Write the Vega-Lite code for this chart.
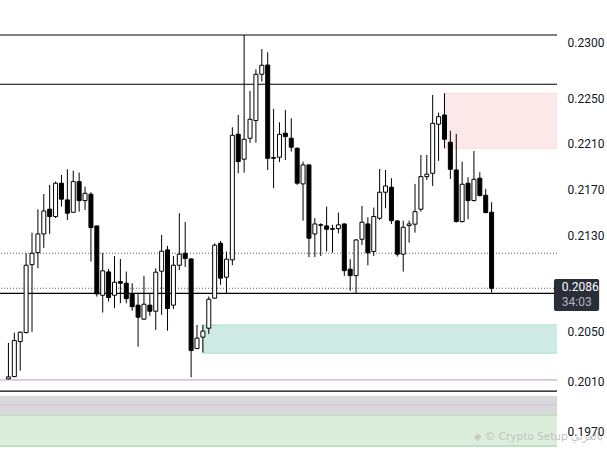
{
  "$schema": "https://vega.github.io/schema/vega-lite/v6.json",
  "width": 557,
  "height": 455,
  "autosize": {"type": "none"},
  "padding": {"left": 0, "top": 0, "right": 50, "bottom": 0},
  "background": "white",
  "config": {
    "view": {"stroke": null},
    "axis": {"labelFont": "Roboto", "labelFontSize": 12, "labelColor": "#131722", "grid": false, "domain": false, "ticks": false, "labelBaseline": "middle"}
  },
  "resolve": {"scale": {"fill": "independent", "stroke": "independent", "strokeWidth": "independent", "color": "independent"}},
  "datasets": {
    "candles": [
      {"i":0,"o":0.20121,"h":0.20411,"l":0.20117,"c":0.20137},
      {"i":1,"o":0.20139,"h":0.20495,"l":0.20134,"c":0.20430},
      {"i":2,"o":0.20422,"h":0.20505,"l":0.20187,"c":0.20498},
      {"i":3,"o":0.20495,"h":0.21153,"l":0.20489,"c":0.21052},
      {"i":4,"o":0.21057,"h":0.21327,"l":0.20501,"c":0.21153},
      {"i":5,"o":0.21158,"h":0.21527,"l":0.21027,"c":0.21316},
      {"i":6,"o":0.21316,"h":0.21658,"l":0.21198,"c":0.21512},
      {"i":7,"o":0.21527,"h":0.21736,"l":0.21316,"c":0.21464},
      {"i":8,"o":0.21464,"h":0.21765,"l":0.21452,"c":0.21751},
      {"i":9,"o":0.21751,"h":0.21823,"l":0.21549,"c":0.21613},
      {"i":10,"o":0.21607,"h":0.21872,"l":0.21435,"c":0.21493},
      {"i":11,"o":0.21501,"h":0.21860,"l":0.21495,"c":0.21765},
      {"i":12,"o":0.21765,"h":0.21843,"l":0.21506,"c":0.21601},
      {"i":13,"o":0.21601,"h":0.21721,"l":0.21521,"c":0.21664},
      {"i":14,"o":0.21656,"h":0.21673,"l":0.21083,"c":0.21370},
      {"i":15,"o":0.21384,"h":0.21386,"l":0.20791,"c":0.20813},
      {"i":16,"o":0.20802,"h":0.21156,"l":0.20659,"c":0.21005},
      {"i":17,"o":0.20996,"h":0.21021,"l":0.20750,"c":0.20783},
      {"i":18,"o":0.20802,"h":0.21130,"l":0.20695,"c":0.20910},
      {"i":19,"o":0.20915,"h":0.21105,"l":0.20736,"c":0.20902},
      {"i":20,"o":0.20902,"h":0.20999,"l":0.20736,"c":0.20774},
      {"i":21,"o":0.20811,"h":0.20902,"l":0.20675,"c":0.20708},
      {"i":22,"o":0.20720,"h":0.20811,"l":0.20381,"c":0.20621},
      {"i":23,"o":0.20605,"h":0.20963,"l":0.20599,"c":0.20728},
      {"i":24,"o":0.20720,"h":0.20811,"l":0.20632,"c":0.20670},
      {"i":25,"o":0.20670,"h":0.21027,"l":0.20517,"c":0.20994},
      {"i":26,"o":0.21002,"h":0.21308,"l":0.20640,"c":0.21170},
      {"i":27,"o":0.21181,"h":0.21215,"l":0.20511,"c":0.20692},
      {"i":28,"o":0.20720,"h":0.21130,"l":0.20687,"c":0.21052},
      {"i":29,"o":0.21052,"h":0.21493,"l":0.21013,"c":0.21145},
      {"i":30,"o":0.21153,"h":0.21418,"l":0.21038,"c":0.21108},
      {"i":31,"o":0.21105,"h":0.21109,"l":0.20134,"c":0.20349},
      {"i":32,"o":0.20365,"h":0.20558,"l":0.20363,"c":0.20450},
      {"i":33,"o":0.20458,"h":0.20558,"l":0.20333,"c":0.20507},
      {"i":34,"o":0.20531,"h":0.20791,"l":0.20484,"c":0.20769},
      {"i":35,"o":0.20778,"h":0.21237,"l":0.20772,"c":0.21221},
      {"i":36,"o":0.21237,"h":0.21257,"l":0.20888,"c":0.20944},
      {"i":37,"o":0.20952,"h":0.21167,"l":0.20811,"c":0.21103},
      {"i":38,"o":0.21097,"h":0.22241,"l":0.21052,"c":0.22170},
      {"i":39,"o":0.22179,"h":0.22350,"l":0.21837,"c":0.21939},
      {"i":40,"o":0.21960,"h":0.23073,"l":0.21843,"c":0.22135},
      {"i":41,"o":0.22144,"h":0.22565,"l":0.22103,"c":0.22312},
      {"i":42,"o":0.22301,"h":0.22759,"l":0.22105,"c":0.22715},
      {"i":43,"o":0.22715,"h":0.22945,"l":0.22650,"c":0.22797},
      {"i":44,"o":0.22799,"h":0.22915,"l":0.21866,"c":0.21968},
      {"i":45,"o":0.21974,"h":0.22404,"l":0.21708,"c":0.21968},
      {"i":46,"o":0.21977,"h":0.22285,"l":0.21936,"c":0.22179},
      {"i":47,"o":0.22188,"h":0.22395,"l":0.21953,"c":0.22158},
      {"i":48,"o":0.22144,"h":0.22321,"l":0.22026,"c":0.22065},
      {"i":49,"o":0.22056,"h":0.22063,"l":0.21736,"c":0.21751},
      {"i":50,"o":0.21745,"h":0.21939,"l":0.21429,"c":0.21910},
      {"i":51,"o":0.21910,"h":0.21914,"l":0.21120,"c":0.21280},
      {"i":52,"o":0.21316,"h":0.21450,"l":0.21120,"c":0.21401},
      {"i":53,"o":0.21394,"h":0.21407,"l":0.21130,"c":0.21390},
      {"i":54,"o":0.21384,"h":0.21549,"l":0.21167,"c":0.21356},
      {"i":55,"o":0.21361,"h":0.21393,"l":0.21158,"c":0.21356},
      {"i":56,"o":0.21361,"h":0.21498,"l":0.21322,"c":0.21393},
      {"i":57,"o":0.21401,"h":0.21405,"l":0.20963,"c":0.21007},
      {"i":58,"o":0.21019,"h":0.21103,"l":0.20838,"c":0.20965},
      {"i":59,"o":0.20965,"h":0.21274,"l":0.20813,"c":0.21265},
      {"i":60,"o":0.21271,"h":0.21555,"l":0.21223,"c":0.21416},
      {"i":61,"o":0.21401,"h":0.21458,"l":0.21051,"c":0.21156},
      {"i":62,"o":0.21167,"h":0.21541,"l":0.21130,"c":0.21465},
      {"i":63,"o":0.21450,"h":0.21875,"l":0.21435,"c":0.21673},
      {"i":64,"o":0.21673,"h":0.21866,"l":0.21535,"c":0.21727},
      {"i":65,"o":0.21716,"h":0.21794,"l":0.21401,"c":0.21429},
      {"i":66,"o":0.21427,"h":0.21429,"l":0.21125,"c":0.21145},
      {"i":67,"o":0.21145,"h":0.21429,"l":0.20999,"c":0.21373},
      {"i":68,"o":0.21387,"h":0.21429,"l":0.21242,"c":0.21401},
      {"i":69,"o":0.21399,"h":0.21745,"l":0.21327,"c":0.21506},
      {"i":70,"o":0.21527,"h":0.21997,"l":0.21506,"c":0.21808},
      {"i":71,"o":0.21808,"h":0.21997,"l":0.21779,"c":0.21829},
      {"i":72,"o":0.21837,"h":0.22529,"l":0.21727,"c":0.22276},
      {"i":73,"o":0.22268,"h":0.22371,"l":0.21945,"c":0.22335},
      {"i":74,"o":0.22350,"h":0.22544,"l":0.22056,"c":0.22135},
      {"i":75,"o":0.22109,"h":0.22211,"l":0.21788,"c":0.21872},
      {"i":76,"o":0.21866,"h":0.22182,"l":0.21414,"c":0.21421},
      {"i":77,"o":0.21421,"h":0.21939,"l":0.21414,"c":0.21742},
      {"i":78,"o":0.21751,"h":0.21803,"l":0.21441,"c":0.21601},
      {"i":79,"o":0.21601,"h":0.22032,"l":0.21594,"c":0.21785},
      {"i":80,"o":0.21794,"h":0.21846,"l":0.21637,"c":0.21644},
      {"i":81,"o":0.21647,"h":0.21702,"l":0.21493,"c":0.21498},
      {"i":82,"o":0.21501,"h":0.21587,"l":0.20824,"c":0.20860}
    ]
  },
  "layer": [
    {
      "data": {"values": [
        {"lo": 0.19834, "hi": 0.19985, "band": "grey"},
        {"lo": 0.19591, "hi": 0.19834, "band": "green"}
      ]},
      "mark": {"type": "rect"},
      "encoding": {
        "y": {"field": "lo", "type": "quantitative", "scale": {"type": "log", "domain": [0.19520, 0.23397], "nice": false, "zero": false},
          "axis": {"orient": "right", "title": null, "values": [0.197, 0.201, 0.205, 0.213, 0.217, 0.221, 0.225, 0.23], "format": ".4f", "labelPadding": 10, "labelAlign": "left", "zindex": 1}},
        "y2": {"field": "hi"},
        "fill": {"field": "band", "type": "nominal", "scale": {"domain": ["grey", "green"], "range": ["#d9d9dc", "#dbeedb"]}, "legend": null}
      }
    },
    {
      "data": {"values": [
        {"a": 74, "b": 95, "lo": 0.22056, "hi": 0.22544, "z": "supply"},
        {"a": 33, "b": 95, "lo": 0.20328, "hi": 0.20558, "z": "demand"}
      ]},
      "mark": {"type": "rect", "clip": true, "strokeWidth": 1},
      "encoding": {
        "x": {"field": "a", "type": "quantitative", "scale": {"domain": [-0.583333, 92.25], "nice": false, "zero": false}, "axis": null},
        "x2": {"field": "b"},
        "y": {"field": "lo", "type": "quantitative", "scale": {"type": "log", "domain": [0.19520, 0.23397], "nice": false, "zero": false},
          "axis": {"orient": "right", "title": null, "values": [0.197, 0.201, 0.205, 0.213, 0.217, 0.221, 0.225, 0.23], "format": ".4f", "labelPadding": 10, "labelAlign": "left", "zindex": 1}},
        "y2": {"field": "hi"},
        "fill": {"field": "z", "type": "nominal", "scale": {"domain": ["supply", "demand"], "range": ["#fde8e9", "#cdeae4"]}, "legend": null},
        "stroke": {"field": "z", "type": "nominal", "scale": {"domain": ["supply", "demand"], "range": ["#f8dadc", "#abdcd2"]}, "legend": null}
      }
    },
    {
      "data": {"values": [
        {"p": 0.23073, "k": "solid"},
        {"p": 0.22625, "k": "solid"},
        {"p": 0.20817, "k": "solid"},
        {"p": 0.20023, "k": "solid"},
        {"p": 0.20113, "k": "lavender"},
        {"p": 0.19913, "k": "lavender"},
        {"p": 0.19834, "k": "green"},
        {"p": 0.19591, "k": "green"}
      ]},
      "mark": {"type": "rule"},
      "encoding": {
        "y": {"field": "p", "type": "quantitative", "scale": {"type": "log", "domain": [0.19520, 0.23397], "nice": false, "zero": false},
          "axis": {"orient": "right", "title": null, "values": [0.197, 0.201, 0.205, 0.213, 0.217, 0.221, 0.225, 0.23], "format": ".4f", "labelPadding": 10, "labelAlign": "left", "zindex": 1}},
        "stroke": {"field": "k", "type": "nominal", "scale": {"domain": ["solid", "lavender", "green"], "range": ["#000000", "#d3c6de", "#c3dfc3"]}, "legend": null},
        "strokeWidth": {"field": "k", "type": "nominal", "scale": {"domain": ["solid", "lavender", "green"], "range": [1.2, 2, 1.5]}, "legend": null}
      }
    },
    {
      "data": {"values": [{"p": 0.21153}, {"p": 0.2086}]},
      "mark": {"type": "rule", "color": "#5d606b", "strokeWidth": 1, "strokeDash": [1, 2]},
      "encoding": {
        "y": {"field": "p", "type": "quantitative", "scale": {"type": "log", "domain": [0.19520, 0.23397], "nice": false, "zero": false},
          "axis": {"orient": "right", "title": null, "values": [0.197, 0.201, 0.205, 0.213, 0.217, 0.221, 0.225, 0.23], "format": ".4f", "labelPadding": 10, "labelAlign": "left", "zindex": 1}}
      }
    },
    {
      "data": {"name": "candles"},
      "mark": {"type": "rule", "color": "#000000", "strokeWidth": 1},
      "encoding": {
        "x": {"field": "i", "type": "quantitative", "scale": {"domain": [-0.583333, 92.25], "nice": false, "zero": false}, "axis": null},
        "y": {"field": "l", "type": "quantitative", "scale": {"type": "log", "domain": [0.19520, 0.23397], "nice": false, "zero": false},
          "axis": {"orient": "right", "title": null, "values": [0.197, 0.201, 0.205, 0.213, 0.217, 0.221, 0.225, 0.23], "format": ".4f", "labelPadding": 10, "labelAlign": "left", "zindex": 1}},
        "y2": {"field": "h"}
      }
    },
    {
      "data": {"name": "candles"},
      "mark": {"type": "bar", "orient": "vertical", "size": 4, "stroke": "#000000", "strokeWidth": 1},
      "encoding": {
        "x": {"field": "i", "type": "quantitative", "scale": {"domain": [-0.583333, 92.25], "nice": false, "zero": false}, "axis": null},
        "y": {"field": "o", "type": "quantitative", "scale": {"type": "log", "domain": [0.19520, 0.23397], "nice": false, "zero": false},
          "axis": {"orient": "right", "title": null, "values": [0.197, 0.201, 0.205, 0.213, 0.217, 0.221, 0.225, 0.23], "format": ".4f", "labelPadding": 10, "labelAlign": "left", "zindex": 1}},
        "y2": {"field": "c"},
        "fill": {"condition": {"test": "datum.c >= datum.o", "value": "#ffffff"}, "value": "#000000"}
      }
    },
    {
      "data": {"values": [{"a": 92.58, "b": 100.25, "lo": 0.20672, "hi": 0.20937}]},
      "mark": {"type": "rect", "fill": "#2a2e39", "cornerRadius": 2, "clip": false},
      "encoding": {
        "x": {"field": "a", "type": "quantitative", "scale": {"domain": [-0.583333, 92.25], "nice": false, "zero": false}, "axis": null},
        "x2": {"field": "b"},
        "y": {"field": "lo", "type": "quantitative", "scale": {"type": "log", "domain": [0.19520, 0.23397], "nice": false, "zero": false},
          "axis": {"orient": "right", "title": null, "values": [0.197, 0.201, 0.205, 0.213, 0.217, 0.221, 0.225, 0.23], "format": ".4f", "labelPadding": 10, "labelAlign": "left", "zindex": 1}},
        "y2": {"field": "hi"}
      }
    },
    {
      "data": {"values": [
        {"i": 93.92, "p": 0.20868, "t": "0.2086", "k": "price"},
        {"i": 93.92, "p": 0.20744, "t": "34:03", "k": "timer"}
      ]},
      "mark": {"type": "text", "align": "left", "baseline": "middle", "font": "Roboto", "fontSize": 12},
      "encoding": {
        "x": {"field": "i", "type": "quantitative", "scale": {"domain": [-0.583333, 92.25], "nice": false, "zero": false}, "axis": null},
        "y": {"field": "p", "type": "quantitative", "scale": {"type": "log", "domain": [0.19520, 0.23397], "nice": false, "zero": false},
          "axis": {"orient": "right", "title": null, "values": [0.197, 0.201, 0.205, 0.213, 0.217, 0.221, 0.225, 0.23], "format": ".4f", "labelPadding": 10, "labelAlign": "left", "zindex": 1}},
        "text": {"field": "t"},
        "color": {"field": "k", "type": "nominal", "scale": {"domain": ["price", "timer"], "range": ["#ffffff", "#b2b5be"]}, "legend": null}
      }
    },
    {
      "data": {"values": [{"i": 78.92, "p": 0.19661, "t": "◈ © Crypto Setup بالعربي"}]},
      "mark": {"type": "text", "align": "left", "baseline": "middle", "font": "DejaVu Sans", "fontSize": 10.5, "color": "#c2c2c2"},
      "encoding": {
        "x": {"field": "i", "type": "quantitative", "scale": {"domain": [-0.583333, 92.25], "nice": false, "zero": false}, "axis": null},
        "y": {"field": "p", "type": "quantitative", "scale": {"type": "log", "domain": [0.19520, 0.23397], "nice": false, "zero": false},
          "axis": {"orient": "right", "title": null, "values": [0.197, 0.201, 0.205, 0.213, 0.217, 0.221, 0.225, 0.23], "format": ".4f", "labelPadding": 10, "labelAlign": "left", "zindex": 1}},
        "text": {"field": "t"}
      }
    }
  ]
}
